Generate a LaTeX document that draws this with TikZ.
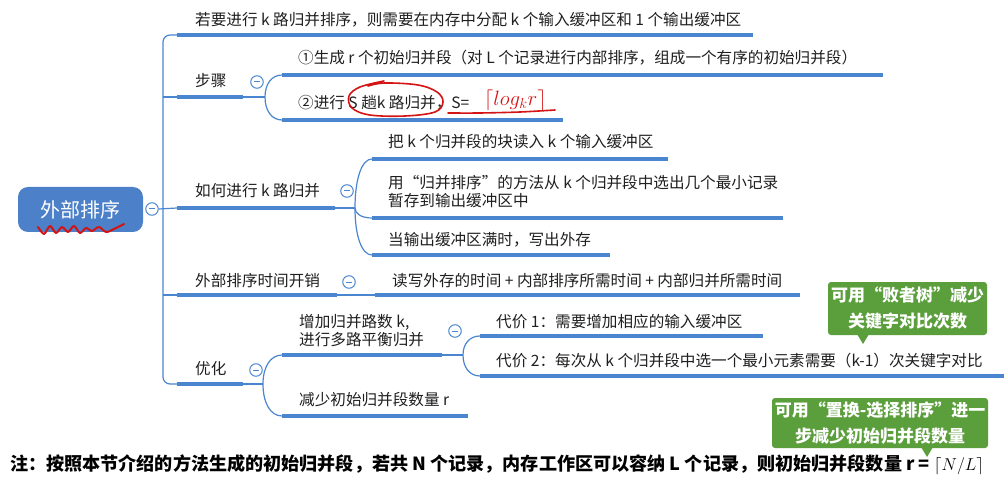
\documentclass[tikz,border=0pt]{standalone}
\usepackage{fontspec}
\setmainfont{Noto Sans CJK SC}
\usetikzlibrary{calc}
\definecolor{mblue}{HTML}{4A86D0}
\definecolor{rootblue}{HTML}{4C80C8}
\definecolor{cgreen}{HTML}{5B9E3C}
\definecolor{annred}{HTML}{D41414}
\newcommand\mmbranch[2]{\draw[conn] (#1) .. controls ($(#1)!0.6!(#1|-#2)$) and ($(#2)!0.6!(#1|-#2)$) .. (#2);}
\tikzset{
  txt/.style={anchor=west, inner sep=0pt, align=left, text=black!88, font=\fontsize{15.6}{18}\selectfont},
  ul/.style={draw=mblue, line width=3.2pt},
  conn/.style={draw=mblue, line width=1.2pt},
  btn/.style={circle, draw=mblue, fill=white, line width=1pt, minimum size=12.5pt, inner sep=0pt,
    path picture={\draw[mblue, line width=1pt] ($(path picture bounding box.center)+(-3pt,0)$) -- ++(6pt,0);}},
  rootbox/.style={fill=rootblue, rounded corners=10pt, minimum width=125pt, minimum height=45pt, text=white, font=\fontsize{20}{24}\selectfont},
  greenbox/.style={fill=cgreen, rounded corners=3pt, text=white, align=center, inner sep=0pt, font=\fontsize{17}{26}\selectfont\bfseries},
  redmark/.style={draw=annred, line width=1.6pt, line cap=round, line join=round},
  notetxt/.style={anchor=west, inner sep=0pt, text=black, font=\fontsize{18.1}{20}\selectfont\bfseries}
}
\begin{document}
\begin{tikzpicture}[x=1pt,y=-1pt]
\useasboundingbox[fill=white] (0,0) rectangle (1007,481);

% ---------- coordinates ----------
\coordinate (sp1) at (163,35);
\coordinate (sp2) at (163,384);
\coordinate (a1) at (177,35);  \coordinate (e1) at (753,35);
\coordinate (a2) at (177,97);  \coordinate (e2) at (243,97);
\coordinate (a3) at (177,208); \coordinate (e3) at (335,208);
\coordinate (a4) at (177,295); \coordinate (e4) at (337,295);
\coordinate (a5) at (177,384); \coordinate (e5) at (243,384);
% step children
\coordinate (p2) at (265,97);
\coordinate (c21) at (282,75);  \coordinate (d21) at (883,75);
\coordinate (c22) at (282,120); \coordinate (d22) at (563,120);
% how children
\coordinate (p3) at (355,208);
\coordinate (c31) at (372,159); \coordinate (d31) at (668,159);
\coordinate (c32) at (372,218); \coordinate (d32) at (783,218);
\coordinate (c33) at (372,255); \coordinate (d33) at (610,255);
% cost child
\coordinate (c41) at (375,295); \coordinate (d41) at (800,295);
% optimisation children
\coordinate (p5) at (263,384);
\coordinate (c51) at (282,355); \coordinate (d51) at (442,355);
\coordinate (c52) at (282,416); \coordinate (d52) at (468,416);
\coordinate (p6) at (463,355);
\coordinate (c61) at (480,336); \coordinate (d61) at (763,336);
\coordinate (c62) at (480,376); \coordinate (d62) at (1004,376);

% ---------- root ----------
\node[rootbox] (root) at (80.5,209.5) {外部排序};
\node[btn] (b0) at (152,209) {};

% ---------- connectors ----------
\draw[conn, rounded corners=7pt] (a1) -- (sp1) -- (sp2) -- (a5);
\draw[conn] (b0.east) -- (a3);
\draw[conn] (a2 -| sp1) -- (a2);
\draw[conn] (a4 -| sp1) -- (a4);

\draw[conn] (e2) -- (p2);
\mmbranch{p2}{c21}
\mmbranch{p2}{c22}

\draw[conn] (e3) -- (p3);
\mmbranch{p3}{c31}
\mmbranch{p3}{c32}
\mmbranch{p3}{c33}

\draw[conn] (e4) -- (c41);

\draw[conn] (e5) -- (p5);
\mmbranch{p5}{c51}
\mmbranch{p5}{c52}

\draw[conn] (d51) -- (p6);
\mmbranch{p6}{c61}
\mmbranch{p6}{c62}

% ---------- underlines ----------
\draw[ul] (a1) -- (e1);
\draw[ul] (a2) -- (e2);
\draw[ul] (a3) -- (e3);
\draw[ul] (a4) -- (e4);
\draw[ul] (a5) -- (e5);
\draw[ul] (c21) -- (d21);
\draw[ul] (c22) -- (d22);
\draw[ul] (c31) -- (d31);
\draw[ul] (c32) -- (d32);
\draw[ul] (c33) -- (d33);
\draw[ul] (c41) -- (d41);
\draw[ul] (c51) -- (d51);
\draw[ul] (c52) -- (d52);
\draw[ul] (c61) -- (d61);
\draw[ul] (c62) -- (d62);

% ---------- texts ----------
\node[txt] (t1) at (195,20) {若要进行 k 路归并排序，则需要在内存中分配 k 个输入缓冲区和 1 个输出缓冲区};
\node[txt] (t2) at (195,81) {步骤};
\node[txt] (t21) at (298,58) {①生成 r 个初始归并段（对 L 个记录进行内部排序，组成一个有序的初始归并段）};
\node[txt] (t22) at (298,103) {②进行 S 趟k 路归并，S=};
\node[txt] (t3) at (195,191) {如何进行 k 路归并};
\node[txt] (t31) at (388,142) {把 k 个归并段的块读入 k 个输入缓冲区};
\node[txt] (t32) at (388,192) {用“归并排序”的方法从 k 个归并段中选出几个最小记录\\暂存到输出缓冲区中};
\node[txt] (t33) at (388,240) {当输出缓冲区满时，写出外存};
\node[txt] (t4) at (195,281) {外部排序时间开销};
\node[txt] (t41) at (392,281) {读写外存的时间 + 内部排序所需时间 + 内部归并所需时间};
\node[txt] (t5) at (195,369) {优化};
\node[txt] (t51) at (299,331) {增加归并路数 k,\\进行多路平衡归并};
\node[txt] (t52) at (299,400) {减少初始归并段数量 r};
\node[txt] (t61) at (496,322) {代价 1：需要增加相应的输入缓冲区};
\node[txt] (t62) at (496,361) {代价 2：每次从 k 个归并段中选一个最小元素需要（k-1）次关键字对比};

% ---------- buttons ----------
\node[btn] (b2) at (257,82) {};
\node[btn] (b3) at (347,191) {};
\node[btn] (b4) at (349,282) {};
\node[btn] (b5) at (256,370) {};
\node[btn] (b6) at (455,331) {};

% ---------- red annotations ----------
\node[anchor=west, inner sep=0pt, text=annred, font=\fontsize{21}{23}\selectfont] (f1) at (484,100) {$\big\lceil log_k r\big\rceil$};
\draw[redmark] plot[smooth, tension=0.6] coordinates {(368,86) (385,83) (418,85) (437,92) (443,102) (435,112) (405,116) (370,115) (352,108) (349,96) (360,87) (384,81)};
\draw[redmark] plot[smooth] coordinates {(448,113) (480,113) (520,112) (555,110)};
\draw[redmark, line width=2pt] plot[smooth, tension=0.5] coordinates {(38,227) (44,234) (50,226) (56,233) (62,227) (68,232) (74,226) (80,233) (86,228) (92,231) (99,227) (106,232) (114,229) (124,224)};

% ---------- callouts ----------
\node[greenbox, minimum width=159pt, minimum height=53pt] (g1) at (907.5,308.5) {可用“败者树”减少\\关键字对比次数};
\coordinate (g1t) at (863,344);
\fill[cgreen] (g1t) -- ++(-6,-10) -- ++(12,0) -- cycle;
\node[greenbox, minimum width=216pt, minimum height=50pt] (g2) at (880,423) {可用“置换-选择排序”进一\\步减少初始归并段数量};
\coordinate (g2t) at (927,457);
\fill[cgreen] (g2t) -- ++(-6,-10) -- ++(12,0) -- cycle;

% ---------- note ----------
\node[notetxt] (note) at (10,465) {注：按照本节介绍的方法生成的初始归并段，若共 N 个记录，内存工作区可以容纳 L 个记录，则初始归并段数量 r = {\mdseries$\lceil N/L\rceil$}};
\end{tikzpicture}
\end{document}
